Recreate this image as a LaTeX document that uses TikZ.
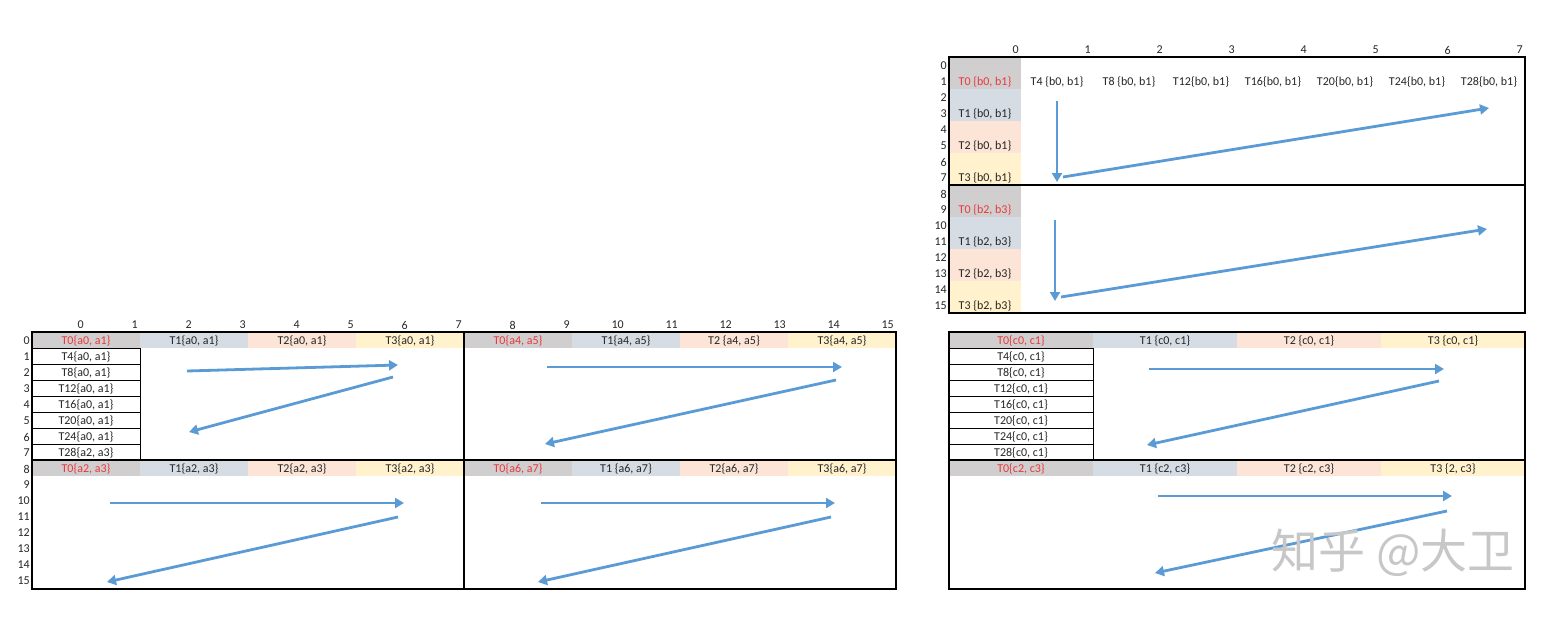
\documentclass[tikz,border=0pt]{standalone}
\usepackage{fontspec}
\setmainfont{Carlito}
\newfontfamily\cjkfont{Noto Sans CJK SC}
\usetikzlibrary{arrows.meta, positioning, calc}

\definecolor{cellgray}{HTML}{D0CECE}
\definecolor{cellblue}{HTML}{D6DCE4}
\definecolor{cellpink}{HTML}{FCE4D6}
\definecolor{cellyellow}{HTML}{FFF2CC}
\definecolor{tzero}{HTML}{E8393D}
\definecolor{arrowblue}{HTML}{5B9BD5}

\begin{document}
\begin{tikzpicture}[x=1pt, y=-1pt,
  cell/.style={font=\fontsize{12}{13}\selectfont, text=black!85, inner sep=0pt},
  hot/.style={cell, text=tzero},
  idx/.style={cell, anchor=east},
  frame/.style={line width=2pt},
  grid/.style={line width=0.8pt},
  flow/.style={arrowblue, line width=2.8pt, -{Triangle[length=9pt, width=10pt]}}]

% canvas
\useasboundingbox (0,0) rectangle (1555,618);

%%% matrix A (16 x 16)
% coloured header rows
\foreach \y in {332,460}
  \foreach \x/\c in {0/cellgray,108/cellblue,216/cellpink,324/cellyellow} {
    \fill[\c] (32+\x,\y) rectangle ++(108,16);
    \fill[\c] (464+\x,\y) rectangle ++(108,16);
  }
% index labels
\foreach \k in {0,...,15} {
  \node[idx] (acol\k) at (84+54*\k,325) {\k};
  \node[idx] (arow\k) at (30,341+16*\k) {\k};
}
% headers
\node[hot]  (a00) at (86,341)  {T0\{a0, a1\}};
\node[cell] (a01) at (194,341) {T1\{a0, a1\}};
\node[cell] (a02) at (302,341) {T2\{a0, a1\}};
\node[cell] (a03) at (410,341) {T3\{a0, a1\}};
\node[hot]  (a04) at (518,341) {T0\{a4, a5\}};
\node[cell] (a05) at (626,341) {T1\{a4, a5\}};
\node[cell] (a06) at (734,341) {T2 \{a4, a5\}};
\node[cell] (a07) at (842,341) {T3\{a4, a5\}};
\node[hot]  (a80) at (86,469)  {T0\{a2, a3\}};
\node[cell] (a81) at (194,469) {T1\{a2, a3\}};
\node[cell] (a82) at (302,469) {T2\{a2, a3\}};
\node[cell] (a83) at (410,469) {T3\{a2, a3\}};
\node[hot]  (a84) at (518,469) {T0\{a6, a7\}};
\node[cell] (a85) at (626,469) {T1 \{a6, a7\}};
\node[cell] (a86) at (734,469) {T2\{a6, a7\}};
\node[cell] (a87) at (842,469) {T3\{a6, a7\}};
% first column
\foreach \r/\txt in {1/{T4\{a0, a1\}},2/{T8\{a0, a1\}},3/{T12\{a0, a1\}},
    4/{T16\{a0, a1\}},5/{T20\{a0, a1\}},6/{T24\{a0, a1\}},7/{T28\{a2, a3\}}} {
  \draw[grid] (32,332+16*\r) rectangle ++(108,16);
  \node[cell] (acell\r) at (86,341+16*\r) {\txt};
}
% frame
\draw[frame] (32,332) rectangle (896,589);
\draw[frame] (464,332) -- (464,589);
\draw[frame] (32,460) -- (896,460);

% zig-zag order
\coordinate (aa1) at (187,371);  \coordinate (aa2) at (398,365);
\coordinate (aa3) at (393,377);  \coordinate (aa4) at (189,432);
\coordinate (ab1) at (547,367);  \coordinate (ab2) at (842,367);
\coordinate (ab3) at (836,380);  \coordinate (ab4) at (545,444);
\coordinate (ac1) at (110,503);  \coordinate (ac2) at (404,503);
\coordinate (ac3) at (398,517);  \coordinate (ac4) at (107,582);
\coordinate (ad1) at (541,503);  \coordinate (ad2) at (835,503);
\coordinate (ad3) at (831,517);  \coordinate (ad4) at (538,582);
\foreach \q in {aa,ab,ac,ad} {
  \draw[flow] (\q1) -- (\q2);
  \draw[flow] (\q3) -- (\q4);
}

%%% matrix B (16 x 8)
\foreach \y in {57,185}
  \foreach \d/\c in {0/cellgray,32/cellblue,64/cellpink,96/cellyellow}
    \fill[\c] (949,\y+\d) rectangle ++(72,32);
\foreach \k in {0,...,7}
  \node[idx] (bcol\k) at (1019+72*\k,50) {\k};
\foreach \k in {0,...,15}
  \node[idx] (brow\k) at (947,66+16*\k) {\k};
\node[hot]  (b10) at (985,82)  {T0 \{b0, b1\}};
\node[cell] (b30) at (985,114) {T1 \{b0, b1\}};
\node[cell] (b50) at (985,146) {T2 \{b0, b1\}};
\node[cell] (b70) at (985,178) {T3 \{b0, b1\}};
\node[hot]  (b90) at (985,210) {T0 \{b2, b3\}};
\node[cell] (b110) at (985,242) {T1 \{b2, b3\}};
\node[cell] (b130) at (985,274) {T2 \{b2, b3\}};
\node[cell] (b150) at (985,306) {T3 \{b2, b3\}};
\foreach \c/\txt in {1/{T4 \{b0, b1\}},2/{T8 \{b0, b1\}},3/{T12\{b0, b1\}},
    4/{T16\{b0, b1\}},5/{T20\{b0, b1\}},6/{T24\{b0, b1\}},7/{T28\{b0, b1\}}}
  \node[cell] (b1\c) at (985+72*\c,82) {\txt};
\draw[frame] (949,57) rectangle (1525,313);
\draw[frame] (949,185) -- (1525,185);

\coordinate (ba1) at (1057,101);  \coordinate (ba2) at (1057,182);
\coordinate (ba3) at (1063,177);  \coordinate (ba4) at (1489,108);
\coordinate (bb1) at (1055,220);  \coordinate (bb2) at (1055,301);
\coordinate (bb3) at (1061,297);  \coordinate (bb4) at (1487,229);
\foreach \q in {ba,bb} {
  \draw[flow] (\q1) -- (\q2);
  \draw[flow] (\q3) -- (\q4);
}

%%% matrix C (16 x 8)
\foreach \y in {332,460}
  \foreach \x/\c in {0/cellgray,144/cellblue,288/cellpink,432/cellyellow}
    \fill[\c] (949+\x,\y) rectangle ++(144,16);
\node[hot]  (c00) at (1021,341) {T0\{c0, c1\}};
\node[cell] (c01) at (1165,341) {T1 \{c0, c1\}};
\node[cell] (c02) at (1309,341) {T2 \{c0, c1\}};
\node[cell] (c03) at (1453,341) {T3 \{c0, c1\}};
\node[hot]  (c80) at (1021,469) {T0\{c2, c3\}};
\node[cell] (c81) at (1165,469) {T1 \{c2, c3\}};
\node[cell] (c82) at (1309,469) {T2 \{c2, c3\}};
\node[cell] (c83) at (1453,469) {T3 \{2, c3\}};
\foreach \r/\t in {1/4,2/8,3/12,4/16,5/20,6/24,7/28} {
  \draw[grid] (949,332+16*\r) rectangle ++(144,16);
  \node[cell] (ccell\r) at (1021,341+16*\r) {T\t\{c0, c1\}};
}
\draw[frame] (949,332) rectangle (1525,589);
\draw[frame] (949,460) -- (1525,460);

\coordinate (ca1) at (1149,369);  \coordinate (ca2) at (1444,369);
\coordinate (ca3) at (1439,381);  \coordinate (ca4) at (1147,445);
\coordinate (cb1) at (1158,496);  \coordinate (cb2) at (1452,496);
\coordinate (cb3) at (1447,511);  \coordinate (cb4) at (1155,573);
\foreach \q in {ca,cb} {
  \draw[flow] (\q1) -- (\q2);
  \draw[flow] (\q3) -- (\q4);
}

% watermark
\node[font=\cjkfont\fontsize{47}{47}\selectfont, text=black!22, inner sep=0pt]
  (mark) at (1393,553) {知乎 @大卫};
\end{tikzpicture}
\end{document}
